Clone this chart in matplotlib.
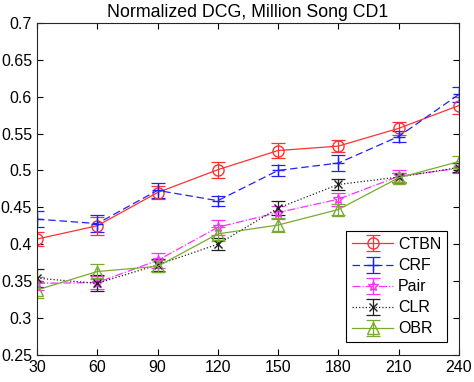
import matplotlib
matplotlib.use("Agg")
import matplotlib.pyplot as plt
import numpy as np

plt.rcParams['font.family'] = ['Liberation Sans', 'DejaVu Sans']
plt.rc("font", size=11)

x = [30, 60, 90, 120, 150, 180, 210, 240]

ctbn = [0.407, 0.425, 0.470, 0.501, 0.527, 0.533, 0.557, 0.588]
ctbn_err = [0.010, 0.012, 0.009, 0.011, 0.010, 0.008, 0.009, 0.012]
crf = [0.434, 0.428, 0.473, 0.459, 0.500, 0.510, 0.546, 0.603]
crf_err = [0.011, 0.012, 0.010, 0.007, 0.008, 0.011, 0.008, 0.010]
pair = [0.347, 0.348, 0.378, 0.423, 0.443, 0.461, 0.492, 0.503]
pair_err = [0.009, 0.009, 0.010, 0.010, 0.009, 0.009, 0.009, 0.007]
clr = [0.354, 0.347, 0.372, 0.400, 0.449, 0.481, 0.491, 0.504]
clr_err = [0.012, 0.011, 0.008, 0.008, 0.009, 0.007, 0.006, 0.006]
obr = [0.338, 0.363, 0.370, 0.414, 0.426, 0.447, 0.490, 0.512]
obr_err = [0.011, 0.010, 0.008, 0.009, 0.009, 0.008, 0.006, 0.008]

fig = plt.figure(figsize=(4.74, 3.82), dpi=100)
ax = fig.add_axes([0.078, 0.071, 0.890, 0.869])

styles = [
    ('CTBN', ctbn, ctbn_err, '#FF3030', '-', 'o', 8),
    ('CRF', crf, crf_err, '#2020FF', (0, (6, 3)), '+', 8),
    ('Pair', pair, pair_err, '#FF30FF', '-.', '*', 7),
    ('CLR', clr, clr_err, '#202020', ':', 'x', 6),
    ('OBR', obr, obr_err, '#77AC30', '-', '^', 8),
]

for name, y, e, c, ls, m, ms in styles:
    ax.errorbar(x, y, yerr=e, color=c, linestyle=ls, marker=m, markersize=ms,
                markerfacecolor='none', markeredgecolor=c, capsize=5,
                linewidth=0.9, elinewidth=0.9, capthick=0.9, label=name)

ax.set_xlim(30, 240)
ax.set_ylim(0.25, 0.7)
ax.set_xticks(x)
ax.set_yticks(np.arange(0.25, 0.701, 0.05))
ax.set_yticklabels(['0.25', '0.3', '0.35', '0.4', '0.45', '0.5', '0.55', '0.6', '0.65', '0.7'])
ax.tick_params(direction='in', top=True, right=True, length=4, labelsize=11.5)
for s in ax.spines.values():
    s.set_linewidth(0.8)
    s.set_color('#262626')
ax.set_title('Normalized DCG, Million Song CD1', fontsize=12.8, pad=4)

leg = ax.legend(loc='lower right', bbox_to_anchor=(0.972, 0.039), fontsize=11.5,
                fancybox=False, edgecolor='black', framealpha=1, handlelength=2.6,
                handletextpad=0.3, borderpad=0.35, borderaxespad=0.0, labelspacing=0.38)
leg.get_frame().set_linewidth(0.8)

plt.savefig('out.png', dpi=100)
plt.close(fig)
